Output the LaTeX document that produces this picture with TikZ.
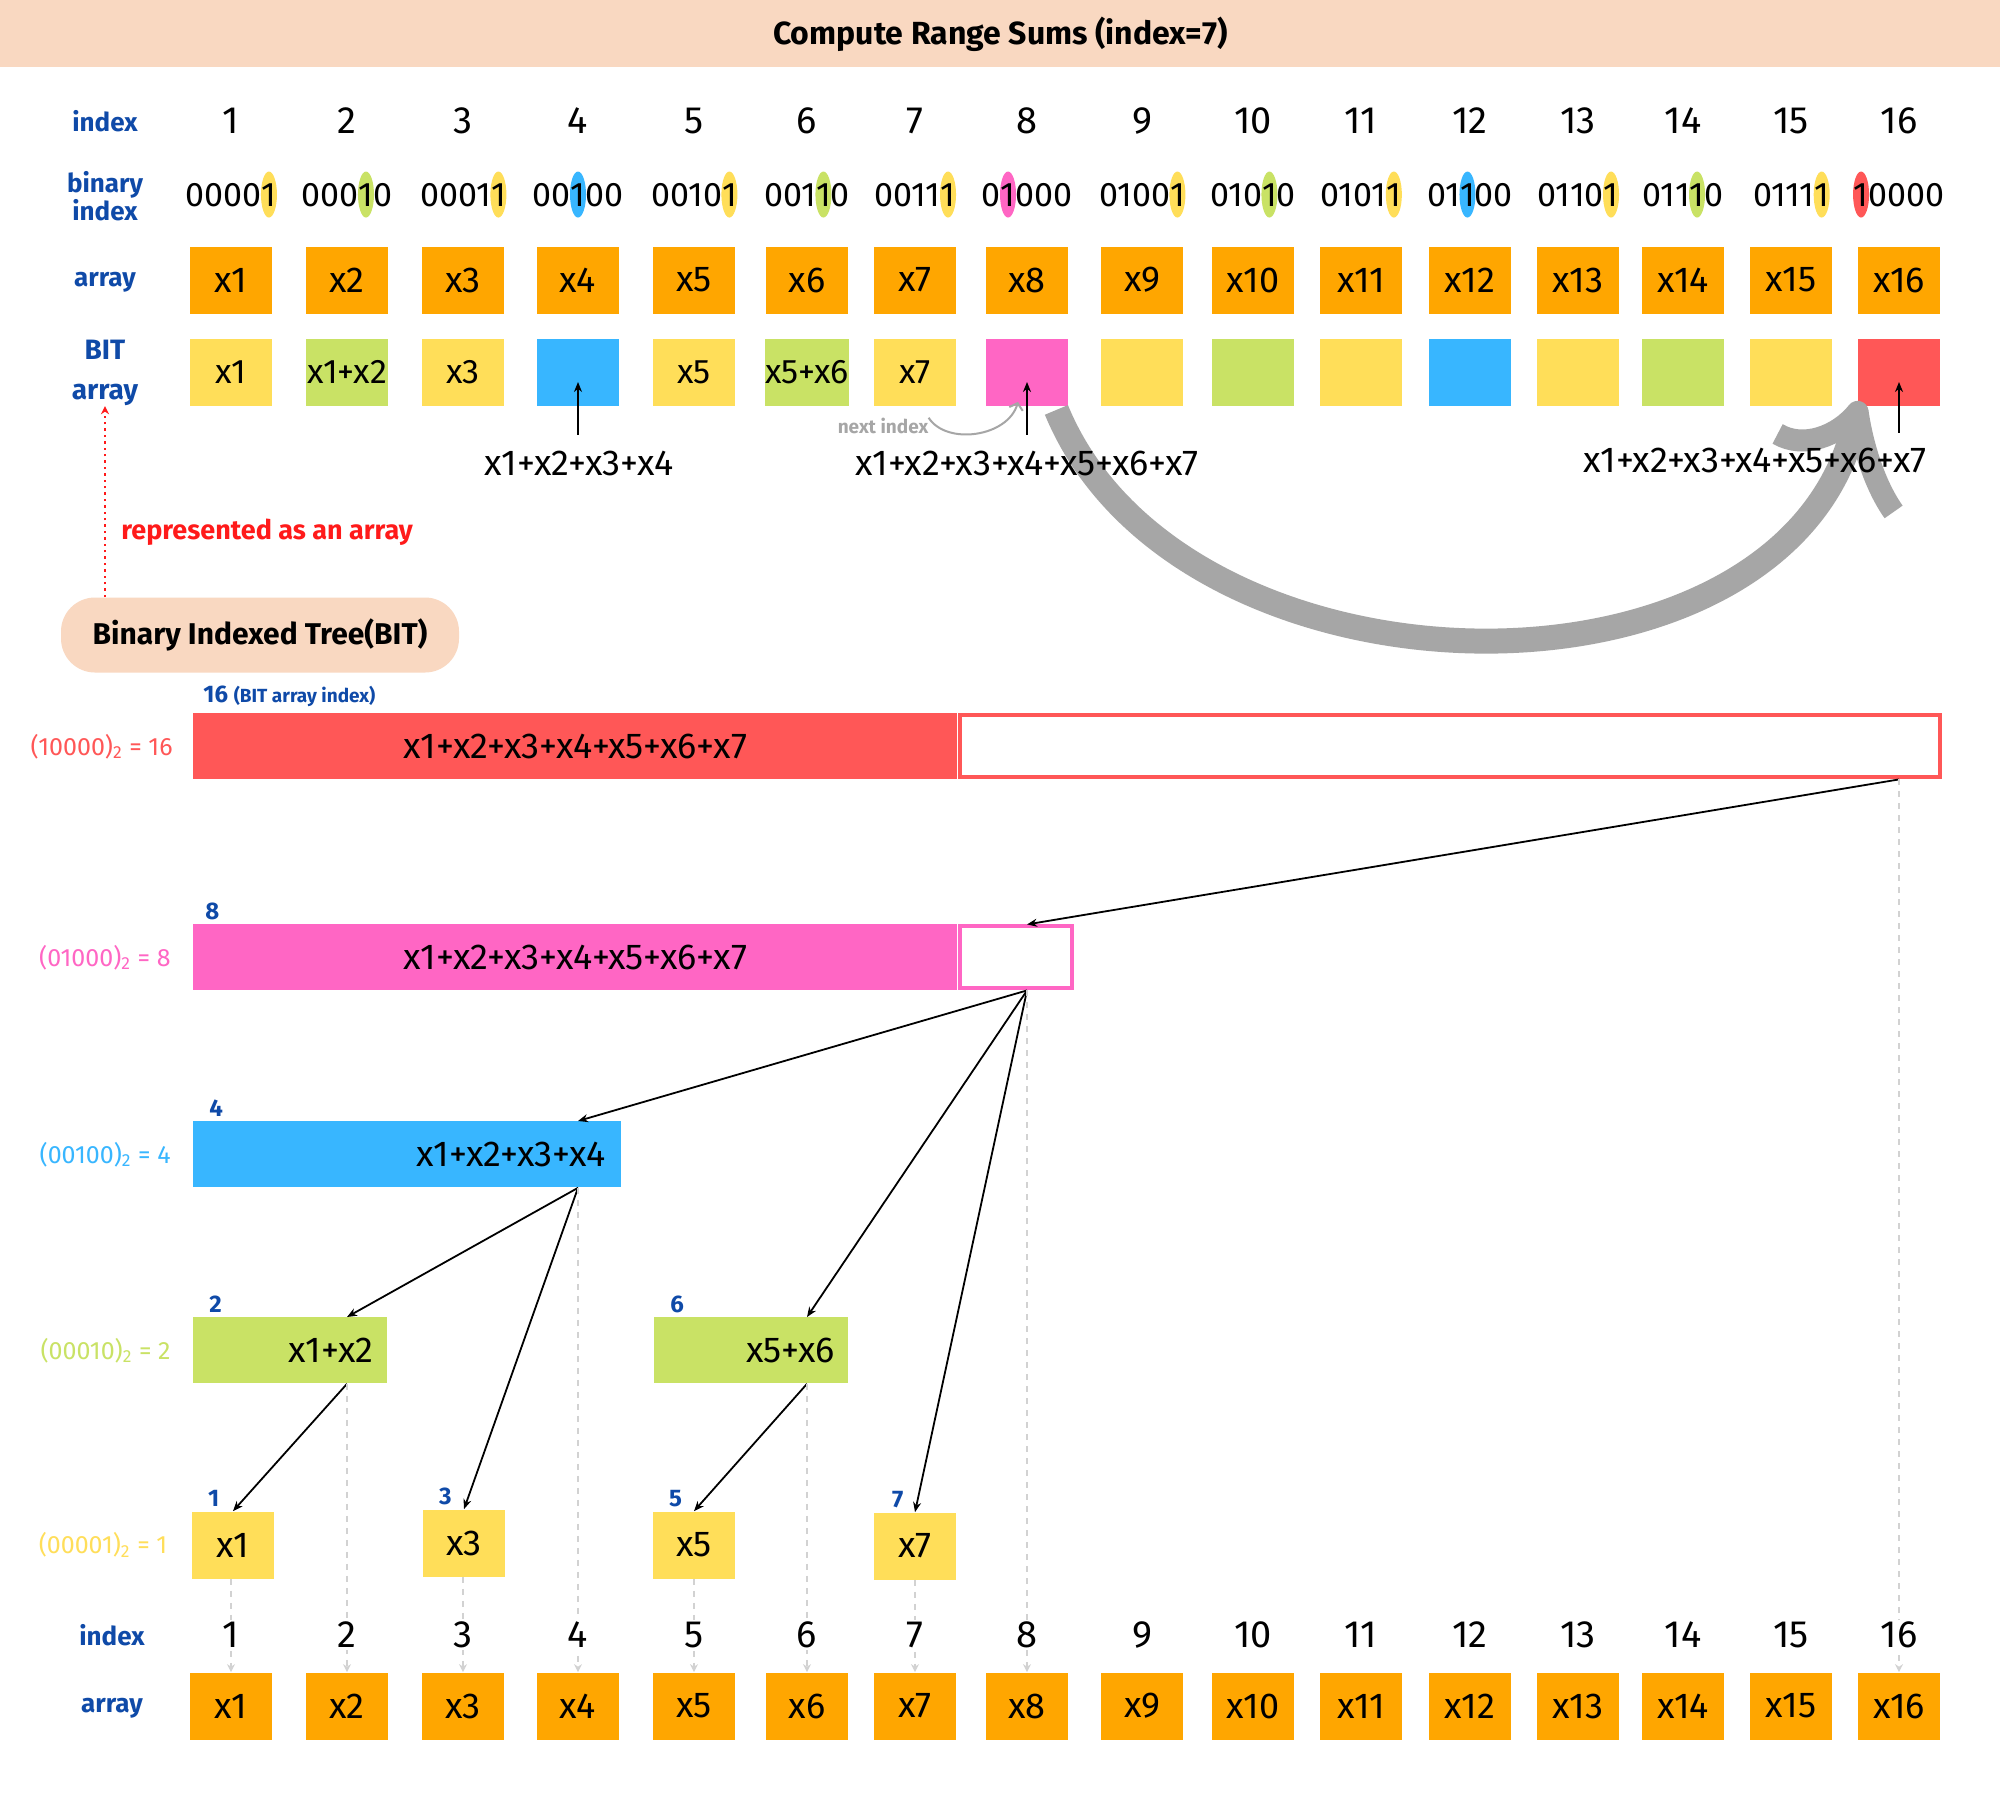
\documentclass[tikz,border=0pt]{standalone}
\usepackage{fontspec}
\setmainfont{Fira Sans}
\usepackage{tikz}
\usetikzlibrary{arrows.meta,positioning,calc,shapes}

\definecolor{bitorange}{HTML}{FFA600}
\definecolor{bityellow}{HTML}{FFDE59}
\definecolor{bitgreen}{HTML}{C9E265}
\definecolor{bitblue}{HTML}{38B6FF}
\definecolor{bitpink}{HTML}{FF66C4}
\definecolor{bitred}{HTML}{FF5757}
\definecolor{peach}{HTML}{F9D8C1}
\definecolor{labblue}{HTML}{0F4AA8}
\definecolor{arcgray}{HTML}{A6A6A6}
\definecolor{guidegray}{HTML}{D2D2D2}
\definecolor{notered}{HTML}{FF1A1A}

\newsavebox\bitbox
\newlength\bitw
\newcommand\lowbit[2]{\sbox\bitbox{#2}\setlength\bitw{0.5\wd\bitbox}\rlap{\tikz[overlay,baseline=0pt]\fill[#1] (\bitw,5.9pt) ellipse [x radius=4pt, y radius=11.5pt];}\usebox\bitbox}

\tikzset{
  arraybox/.style = {rectangle, fill = bitorange, minimum width = 41pt, minimum height = 33.5pt, inner sep = 0pt, font = \fontsize{18}{20}\selectfont},
  bitcell/.style = {rectangle, minimum width = 41pt, minimum height = 33.5pt, inner sep = 0pt, font = \fontsize{17}{20}\selectfont},
  idxnum/.style = {inner sep = 0pt, font = \fontsize{19}{22}\selectfont},
  bintext/.style = {inner sep = 0pt, font = \fontsize{17}{20}\selectfont},
  rowlabel/.style = {text = labblue, align = center, inner sep = 0pt, font = \bfseries\fontsize{13}{14}\selectfont},
  sumtext/.style = {inner sep = 0pt, font = \fontsize{18}{20}\selectfont},
  treebar/.style = {rectangle, anchor = north west, minimum height = 33pt, inner sep = 0pt, font = \fontsize{18}{20}\selectfont},
  barend/.style = {rectangle, fill = white, line width = 2pt, minimum height = 31pt, inner sep = 0pt},
  treelab/.style = {anchor = south west, inner sep = 1pt, text = labblue, font = \bfseries\fontsize{12}{14}\selectfont},
  levellab/.style = {anchor = east, inner sep = 0pt, font = \fontsize{12.5}{14}\selectfont},
  treearrow/.style = {-{Stealth[length = 5pt, width = 4pt]}, line width = 0.9pt},
  guide/.style = {guidegray, dashed, line width = 0.6pt, -{Stealth[length = 4pt, width = 4pt]}},
}

\begin{document}
\begin{tikzpicture}[x=0.5pt,y=-0.5pt]
\useasboundingbox (0,0) rectangle (2000,1800);
\fill[white] (0,0) rectangle (2000,1800);

\node[rectangle,
    fill = peach,
    anchor = north west,
    minimum width = 1000pt,
    minimum height = 33.5pt,
    font = \bfseries\fontsize{16}{18}\selectfont]
    (title) at (0,0) {Compute Range Sums (index=7)};

% top rows
\node[rowlabel] (hidx) at (105,121) {index};
\node[rowlabel] (hbin) at (105,196) {binary\\index};
\node[rowlabel] (harr) at (105,282) {array};
\node[rowlabel,font=\bfseries\fontsize{14}{20}\selectfont] (hbit) at (105,373) {BIT\\array};

\node[idxnum] (ti1) at (231,121) {1};
\node[idxnum] (ti2) at (347,121) {2};
\node[idxnum] (ti3) at (463,121) {3};
\node[idxnum] (ti4) at (578,121) {4};
\node[idxnum] (ti5) at (694,121) {5};
\node[idxnum] (ti6) at (807,121) {6};
\node[idxnum] (ti7) at (915,121) {7};
\node[idxnum] (ti8) at (1027,121) {8};
\node[idxnum] (ti9) at (1142,121) {9};
\node[idxnum] (ti10) at (1253,121) {10};
\node[idxnum] (ti11) at (1361,121) {11};
\node[idxnum] (ti12) at (1470,121) {12};
\node[idxnum] (ti13) at (1578,121) {13};
\node[idxnum] (ti14) at (1683,121) {14};
\node[idxnum] (ti15) at (1791,121) {15};
\node[idxnum] (ti16) at (1899,121) {16};

\node[bintext] (tb1) at (231,195) {0000\lowbit{bityellow}{1}};
\node[bintext] (tb2) at (347,195) {000\lowbit{bitgreen}{1}0};
\node[bintext] (tb3) at (463,195) {0001\lowbit{bityellow}{1}};
\node[bintext] (tb4) at (578,195) {00\lowbit{bitblue}{1}00};
\node[bintext] (tb5) at (694,195) {0010\lowbit{bityellow}{1}};
\node[bintext] (tb6) at (807,195) {001\lowbit{bitgreen}{1}0};
\node[bintext] (tb7) at (915,195) {0011\lowbit{bityellow}{1}};
\node[bintext] (tb8) at (1027,195) {0\lowbit{bitpink}{1}000};
\node[bintext] (tb9) at (1142,195) {0100\lowbit{bityellow}{1}};
\node[bintext] (tb10) at (1253,195) {010\lowbit{bitgreen}{1}0};
\node[bintext] (tb11) at (1361,195) {0101\lowbit{bityellow}{1}};
\node[bintext] (tb12) at (1470,195) {01\lowbit{bitblue}{1}00};
\node[bintext] (tb13) at (1578,195) {0110\lowbit{bityellow}{1}};
\node[bintext] (tb14) at (1683,195) {011\lowbit{bitgreen}{1}0};
\node[bintext] (tb15) at (1791,195) {0111\lowbit{bityellow}{1}};
\node[bintext] (tb16) at (1899,195) {\lowbit{bitred}{1}0000};

\node[arraybox] (ta1) at (231,280) {x1};
\node[arraybox] (ta2) at (347,280) {x2};
\node[arraybox] (ta3) at (463,280) {x3};
\node[arraybox] (ta4) at (578,280) {x4};
\node[arraybox] (ta5) at (694,280) {x5};
\node[arraybox] (ta6) at (807,280) {x6};
\node[arraybox] (ta7) at (915,280) {x7};
\node[arraybox] (ta8) at (1027,280) {x8};
\node[arraybox] (ta9) at (1142,280) {x9};
\node[arraybox] (ta10) at (1253,280) {x10};
\node[arraybox] (ta11) at (1361,280) {x11};
\node[arraybox] (ta12) at (1470,280) {x12};
\node[arraybox] (ta13) at (1578,280) {x13};
\node[arraybox] (ta14) at (1683,280) {x14};
\node[arraybox] (ta15) at (1791,280) {x15};
\node[arraybox] (ta16) at (1899,280) {x16};

\node[bitcell,fill=bityellow] (tt1) at (231,372) {x1};
\node[bitcell,fill=bitgreen] (tt2) at (347,372) {x1+x2};
\node[bitcell,fill=bityellow] (tt3) at (463,372) {x3};
\node[bitcell,fill=bitblue] (tt4) at (578,372) {};
\node[bitcell,fill=bityellow] (tt5) at (694,372) {x5};
\node[bitcell,fill=bitgreen] (tt6) at (807,372) {x5+x6};
\node[bitcell,fill=bityellow] (tt7) at (915,372) {x7};
\node[bitcell,fill=bitpink] (tt8) at (1027,372) {};
\node[bitcell,fill=bityellow] (tt9) at (1142,372) {};
\node[bitcell,fill=bitgreen] (tt10) at (1253,372) {};
\node[bitcell,fill=bityellow] (tt11) at (1361,372) {};
\node[bitcell,fill=bitblue] (tt12) at (1470,372) {};
\node[bitcell,fill=bityellow] (tt13) at (1578,372) {};
\node[bitcell,fill=bitgreen] (tt14) at (1683,372) {};
\node[bitcell,fill=bityellow] (tt15) at (1791,372) {};
\node[bitcell,fill=bitred] (tt16) at (1899,372) {};

% jump to the next index
\coordinate (jumpend) at ([yshift=-3pt]tt16.south west);
\draw[arcgray,line width=12.5pt]
    ([xshift=-6pt,yshift=-2pt]tt8.south east) .. controls (1180,710) and (1780,720) .. ($(jumpend)+(-4,16)$);
\draw[arcgray,line width=11pt,line join=round]
    ($(jumpend)+(-80,22)$) .. controls +(25,15) and +(-20,25) .. (jumpend)
    .. controls +(5,35) and +(-18,-25) .. ($(jumpend)+(36,100)$);

\node[inner sep=0pt,text=arcgray,font=\bfseries\fontsize{9.5}{11}\selectfont] (nxt) at (883,426) {next index};
\draw[arcgray,line width=1pt,-{Straight Barb[length=3pt,width=7pt]}]
    (nxt.north east) .. controls +(18,28) and +(-10,35) .. ([xshift=-4.5pt,yshift=2pt]tt8.south);

\node[sumtext] (sum4) at (579,463) {x1+x2+x3+x4};
\node[sumtext] (sum8) at (1027,463) {x1+x2+x3+x4+x5+x6+x7};
\node[sumtext] (sum16) at (1755,460) {x1+x2+x3+x4+x5+x6+x7};
\draw[treearrow] ([yshift=-14.5pt]tt4.south) -- ([yshift=-5pt]tt4.center);
\draw[treearrow] ([yshift=-14.5pt]tt8.south) -- ([yshift=-5pt]tt8.center);
\draw[treearrow] ([yshift=-13.5pt]tt16.south) -- ([yshift=-5pt]tt16.center);

% the tree
\node[rectangle,fill=peach,rounded corners=17pt,minimum width=199pt,minimum height=37.5pt,
    font=\bfseries\fontsize{15}{17}\selectfont] (bitree) at (260,635) {Binary Indexed Tree(BIT)};
\draw[notered,dotted,line width=1.2pt,-{Stealth[length=4pt,width=4pt]}] (bitree.north -| hbit.south) -- (hbit.south);
\node[anchor=west,inner sep=0pt,text=notered,font=\bfseries\fontsize{13.5}{15}\selectfont] (rep) at (121,532) {represented as an array};

\node[treebar,fill=bitred,minimum width=382pt] (n16) at (193,713) {x1+x2+x3+x4+x5+x6+x7};
\node[barend,draw=bitred,minimum width=490pt,right=0pt of n16] (w16) {};
\node[treebar,fill=bitpink,minimum width=382pt] (n8) at (193,924) {x1+x2+x3+x4+x5+x6+x7};
\node[barend,draw=bitpink,minimum width=56pt,right=0pt of n8] (w8) {};
\node[treebar,fill=bitblue,text width=198pt,align=right,inner xsep=8pt] (n4) at (193,1121) {x1+x2+x3+x4};
\node[treebar,fill=bitgreen,text width=83pt,align=right,inner xsep=7pt] (n2) at (193,1317) {x1+x2};
\node[treebar,fill=bitgreen,text width=83pt,align=right,inner xsep=7pt] (n6) at (654,1317) {x5+x6};
\node[bitcell,fill=bityellow,font=\fontsize{18}{20}\selectfont] (n1) at (233,1545) {x1};
\node[bitcell,fill=bityellow,font=\fontsize{18}{20}\selectfont] (n3) at (464,1543) {x3};
\node[bitcell,fill=bityellow,font=\fontsize{18}{20}\selectfont] (n5) at (694,1545) {x5};
\node[bitcell,fill=bityellow,font=\fontsize{18}{20}\selectfont] (n7) at (915,1546) {x7};

\node[treelab] (k16) at ([xshift=4pt,yshift=2pt]n16.north west) {16 {\fontsize{9.5}{11}\selectfont (BIT array index)}};
\node[treelab] (k8) at ([xshift=5pt,yshift=1pt]n8.north west) {8};
\node[treelab] (k4) at ([xshift=7pt,yshift=1pt]n4.north west) {4};
\node[treelab] (k2) at ([xshift=7pt,yshift=1pt]n2.north west) {2};
\node[treelab] (k6) at ([xshift=7pt,yshift=1pt]n6.north west) {6};
\node[treelab] (k1) at ([xshift=7pt,yshift=1pt]n1.north west) {1};
\node[treelab] (k3) at ([xshift=7pt,yshift=1pt]n3.north west) {3};
\node[treelab] (k5) at ([xshift=7pt,yshift=1pt]n5.north west) {5};
\node[treelab] (k7) at ([xshift=8pt,yshift=1pt]n7.north west) {7};

\node[levellab,text=bitred,left=10pt of n16] (lv16) {(10000)\textsubscript{2} = 16};
\node[levellab,text=bitpink,left=11pt of n8] (lv8) {(01000)\textsubscript{2} = 8};
\node[levellab,text=bitblue,left=11pt of n4] (lv4) {(00100)\textsubscript{2} = 4};
\node[levellab,text=bitgreen,left=11pt of n2] (lv2) {(00010)\textsubscript{2} = 2};
\node[levellab,text=bityellow,left=12pt of n1] (lv1) {(00001)\textsubscript{2} = 1};

\draw[treearrow] (w16.south -| ta16) -- (w8.north -| ta8);
\draw[treearrow] (w8.south -| ta8) -- (n4.north -| ta4);
\draw[treearrow] (w8.south -| ta8) -- (n6.north -| ta6);
\draw[treearrow] (w8.south -| ta8) -- (n7.north);
\draw[treearrow] (n4.south -| ta4) -- (n2.north -| ta2);
\draw[treearrow] (n4.south -| ta4) -- (n3.north);
\draw[treearrow] (n2.south -| ta2) -- (n1.north);
\draw[treearrow] (n6.south -| ta6) -- (n5.north);

% bottom rows
\node[rowlabel] (bidx) at (112,1635) {index};
\node[rowlabel] (barr) at (112,1708) {array};

\node[arraybox] (ba1) at (231,1706) {x1};
\node[arraybox] (ba2) at (347,1706) {x2};
\node[arraybox] (ba3) at (463,1706) {x3};
\node[arraybox] (ba4) at (578,1706) {x4};
\node[arraybox] (ba5) at (694,1706) {x5};
\node[arraybox] (ba6) at (807,1706) {x6};
\node[arraybox] (ba7) at (915,1706) {x7};
\node[arraybox] (ba8) at (1027,1706) {x8};
\node[arraybox] (ba9) at (1142,1706) {x9};
\node[arraybox] (ba10) at (1253,1706) {x10};
\node[arraybox] (ba11) at (1361,1706) {x11};
\node[arraybox] (ba12) at (1470,1706) {x12};
\node[arraybox] (ba13) at (1578,1706) {x13};
\node[arraybox] (ba14) at (1683,1706) {x14};
\node[arraybox] (ba15) at (1791,1706) {x15};
\node[arraybox] (ba16) at (1899,1706) {x16};

\draw[guide] (n1.south -| ba1) -- (ba1.north);
\draw[guide] (n2.south -| ba2) -- (ba2.north);
\draw[guide] (n3.south -| ba3) -- (ba3.north);
\draw[guide] (n4.south -| ba4) -- (ba4.north);
\draw[guide] (n5.south -| ba5) -- (ba5.north);
\draw[guide] (n6.south -| ba6) -- (ba6.north);
\draw[guide] (n7.south -| ba7) -- (ba7.north);
\draw[guide] (w8.south -| ba8) -- (ba8.north);
\draw[guide] (w16.south -| ba16) -- (ba16.north);

\node[idxnum,fill=white,inner sep=1pt] (bi1) at (231,1635) {1};
\node[idxnum,fill=white,inner sep=1pt] (bi2) at (347,1635) {2};
\node[idxnum,fill=white,inner sep=1pt] (bi3) at (463,1635) {3};
\node[idxnum,fill=white,inner sep=1pt] (bi4) at (578,1635) {4};
\node[idxnum,fill=white,inner sep=1pt] (bi5) at (694,1635) {5};
\node[idxnum,fill=white,inner sep=1pt] (bi6) at (807,1635) {6};
\node[idxnum,fill=white,inner sep=1pt] (bi7) at (915,1635) {7};
\node[idxnum,fill=white,inner sep=1pt] (bi8) at (1027,1635) {8};
\node[idxnum] (bi9) at (1142,1635) {9};
\node[idxnum] (bi10) at (1253,1635) {10};
\node[idxnum] (bi11) at (1361,1635) {11};
\node[idxnum] (bi12) at (1470,1635) {12};
\node[idxnum] (bi13) at (1578,1635) {13};
\node[idxnum] (bi14) at (1683,1635) {14};
\node[idxnum] (bi15) at (1791,1635) {15};
\node[idxnum,fill=white,inner sep=1pt] (bi16) at (1899,1635) {16};

\end{tikzpicture}
\end{document}
